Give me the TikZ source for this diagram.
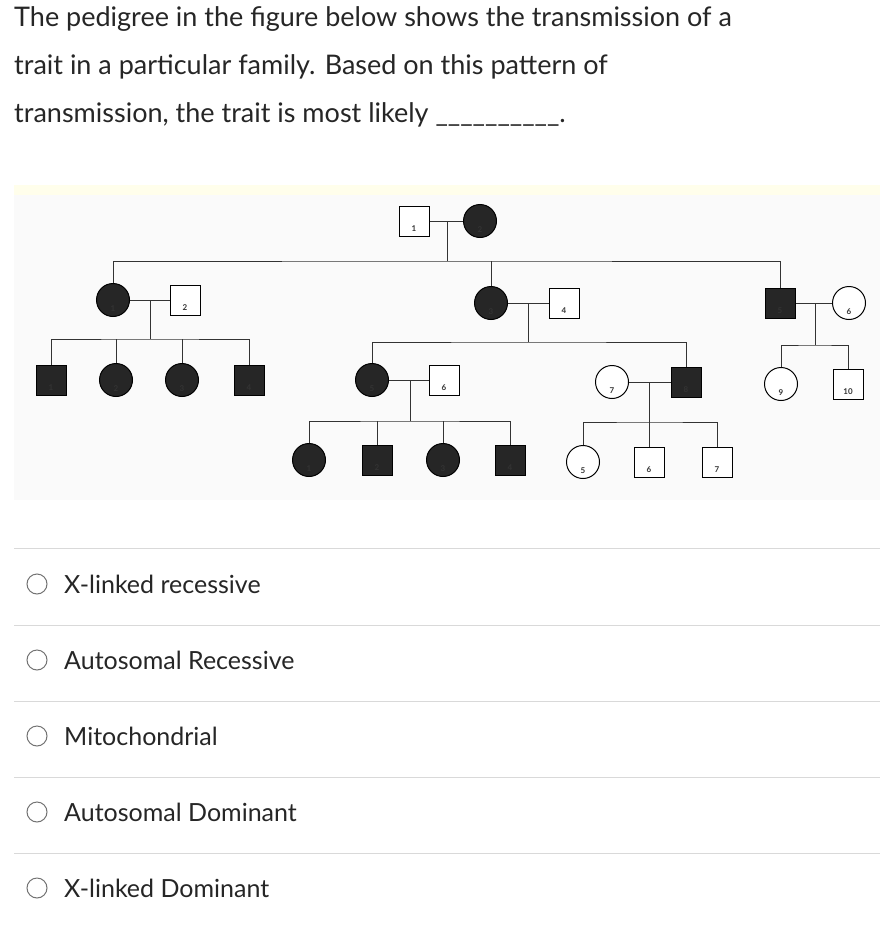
\documentclass[tikz,border=0pt]{standalone}
\usepackage{fontspec}
\setmainfont{Lato}
\begin{document}
\begin{tikzpicture}[x=1pt,y=-1pt,
 m/.style={draw,line width=1pt,minimum size=30pt,inner sep=0pt},
 sq/.style={m,rectangle,fill=white},
 ci/.style={m,circle,minimum size=33pt,fill=white},
 sqa/.style={sq,fill=black!85},
 cia/.style={ci,fill=black!85},
 ln/.style={line width=1pt,black!80},
 lab/.style={font=\fontsize{8}{8}\selectfont\bfseries,text=black!80},
 sep/.style={draw=black!15,line width=1pt},
 opt/.style={draw=black!55,line width=1pt,circle,minimum size=20pt,inner sep=0pt},
 otext/.style={anchor=west,font=\fontsize{25}{25}\selectfont,text=black!85,inner sep=0pt}]
\useasboundingbox (0,0) rectangle (894,942);
\fill[white] (0,0) rectangle (894,942);
\fill[black!2] (14,185) rectangle (880,500);
\fill[yellow!8] (14,185) rectangle (880,195);
\node[anchor=north west,align=left,inner sep=0pt,font=\fontsize{27}{48}\selectfont,text=black!85] (q) at (14,6)
 {The pedigree in the figure below shows the transmission of a\\trait in a particular family. Based on this pattern of\\transmission, the trait is most likely \_\_\_\_\_\_\_\_\_\_.};
% Gen I
\node[sq] (I1) at (414,221) {}; \node[cia] (I2) at (480,221) {};
\coordinate (m1) at (447,221); \coordinate (s1) at (447,261);
% Gen II
\node[cia] (II1) at (113,300) {}; \node[sq] (II2) at (185,300) {};
\node[cia] (II3) at (491,303) {}; \node[sq] (II4) at (564,303) {};
\node[sqa] (II5) at (780,303) {}; \node[ci] (II6) at (849,303) {};
% Gen III
\node[sqa] (III1) at (51,380) {}; \node[cia] (III2) at (116,380) {};
\node[cia] (III3) at (182,380) {}; \node[sqa] (III4) at (249,380) {};
\node[cia] (III5) at (372,380) {}; \node[sq] (III6) at (444,380) {};
\node[ci] (III7) at (612,382) {}; \node[sqa] (III8) at (686,382) {};
\node[ci] (III9) at (781,384) {}; \node[sq] (III10) at (848,384) {};
% Gen IV
\node[cia] (IV1) at (309,460) {}; \node[sqa] (IV2) at (377,460) {};
\node[cia] (IV3) at (443,460) {}; \node[sqa] (IV4) at (510,460) {};
\node[ci] (IV5) at (583,462) {}; \node[sq] (IV6) at (649,462) {};
\node[sq] (IV7) at (717,462) {};
% lines
\draw[ln] (I1) -- (I2); \draw[ln] (m1) -- (s1);
\draw[ln] (II1.north) |- (s1) -| (II5.north); \draw[ln] (II3.north) -- (II3.north |- s1);
\draw[ln] (II1) -- (II2); \coordinate (m2) at (150,300); \coordinate (s2) at (150,339);
\draw[ln] (m2) -- (s2); \draw[ln] (III1.north) |- (s2) -| (III4.north);
\draw[ln] (III2.north) -- (III2.north |- s2); \draw[ln] (III3.north) -- (III3.north |- s2);
\draw[ln] (II3) -- (II4); \coordinate (m3) at (528,303); \coordinate (s3) at (528,342);
\draw[ln] (m3) -- (s3); \draw[ln] (III5.north) |- (s3) -| (III8.north);
\draw[ln] (II5) -- (II6); \coordinate (m4) at (815,303); \coordinate (s4) at (815,345);
\draw[ln] (m4) -- (s4); \draw[ln] (III9.north) |- (s4) -| (III10.north);
\draw[ln] (III5) -- (III6); \coordinate (m5) at (410,380); \coordinate (s5) at (410,421);
\draw[ln] (m5) -- (s5); \draw[ln] (IV1.north) |- (s5) -| (IV4.north);
\draw[ln] (IV2.north) -- (IV2.north |- s5); \draw[ln] (IV3.north) -- (IV3.north |- s5);
\draw[ln] (III7) -- (III8); \coordinate (m6) at (649,382); \coordinate (s6) at (649,422);
\draw[ln] (m6) -- (IV6.north); \draw[ln] (IV5.north) |- (s6) -| (IV7.north);
% labels
\foreach \n/\t in {I1/1,I2/2,II1/1,II2/2,II3/3,II4/4,II5/5,II6/6,III1/1,III2/2,III3/3,III4/4,III5/5,III6/6,III7/7,III8/8,III9/9,III10/10,IV1/1,IV2/2,IV3/3,IV4/4,IV5/5,IV6/6,IV7/7}
  \node[lab] at ([yshift=8pt]\n.south) {\t};
% options
\foreach \y in {548,625,701,777,853} \draw[sep] (14,\y) -- (880,\y);
\foreach \y/\t/\k in {584/X-linked recessive/a,660/Autosomal Recessive/b,736/Mitochondrial/c,812/Autosomal Dominant/d,888/X-linked Dominant/e}{
  \node[opt] (o\k) at (37,\y) {};
  \node[otext] (t\k) at (64,\y) {\t};}
\end{tikzpicture}
\end{document}
